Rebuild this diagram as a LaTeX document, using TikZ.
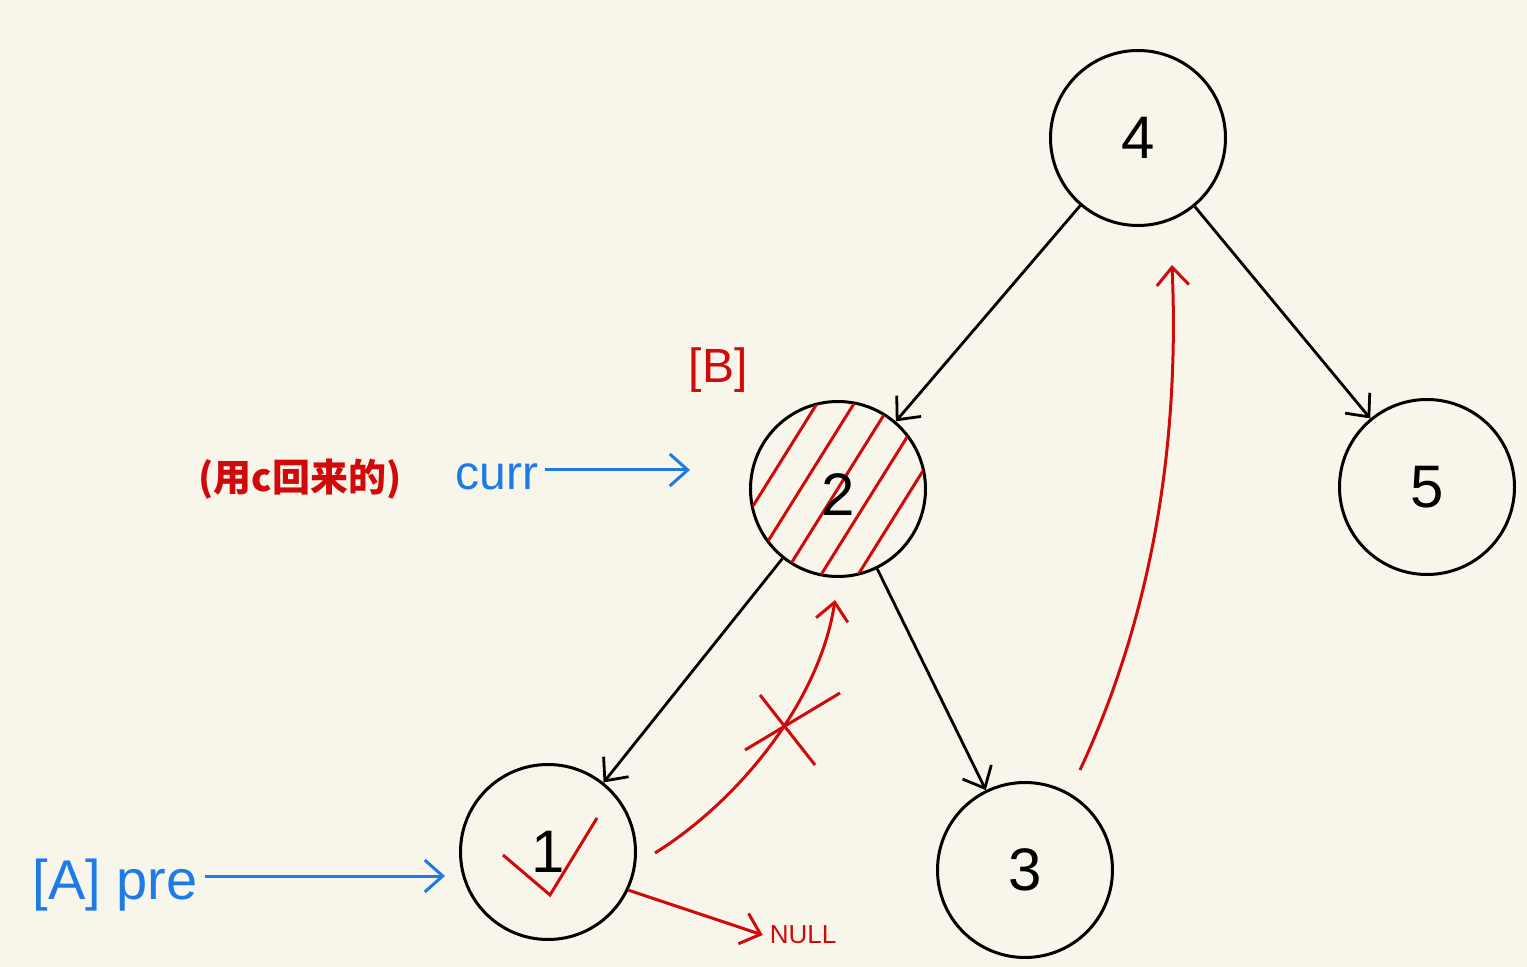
\documentclass[tikz,border=0pt]{standalone}
\usepackage{fontspec}
\setmainfont{Liberation Sans}
\newfontfamily\cjk{Noto Sans CJK SC}
\usetikzlibrary{arrows.meta}
\definecolor{bg}{HTML}{F8F6EA}
\definecolor{rd}{HTML}{D00A0A}
\definecolor{bl}{HTML}{1E7BE6}
\begin{document}
\begin{tikzpicture}[x=0.5pt,y=-0.5pt,
  nd/.style={circle,draw,line width=1.5pt,minimum size=87.5pt,inner sep=0pt,font=\fontsize{30}{30}\selectfont},
  tip/.style={-{Straight Barb[length=9pt,width=16pt]}},
  edge/.style={line width=1.4pt,tip},
  redl/.style={rd,line width=1.5pt},
  bluel/.style={bl,line width=1.5pt,tip}]
\fill[bg] (0,0) rectangle (1527,967);
\useasboundingbox (0,0) rectangle (1527,967);
\node[nd] (n4) at (1138,138) {4};
\node[nd] (n5) at (1427,487) {5};
\node[nd] (n2) at (838,489) {};
\node[nd] (n1) at (548,852) {1};
\node[nd] (n3) at (1025,870) {3};
\begin{scope}
\clip (838,489) circle (87);
\foreach \i in {-5,...,5} \draw[redl] (700+\i*37,650) -- (900+\i*37,330);
\end{scope}
\node[font=\fontsize{30}{30}\selectfont] at (838,495) {2};
\draw[edge] (n4) -- (n2);
\draw[edge] (n4) -- (n5);
\draw[edge] (n2) -- (n1);
\draw[edge] (n2) -- (n3);
% red
\coordinate (a1) at (655,853); \coordinate (a2) at (835,600);
\draw[redl,tip] (a1) .. controls (740,800) and (820,700) .. (a2);
\coordinate (c1) at (745,750); \coordinate (c2) at (840,693);
\coordinate (c3) at (760,695); \coordinate (c4) at (815,765);
\draw[redl] (c1) -- (c2); \draw[redl] (c3) -- (c4);
\coordinate (b1) at (1080,770); \coordinate (b2) at (1172,265);
\draw[redl,tip] (b1) .. controls (1150,620) and (1180,450) .. (b2);
\node[text=rd,font=\fontsize{13}{13}\selectfont] (nul) at (803,935) {NULL};
\draw[redl,tip] (628,890) -- (nul.west);
\coordinate (k1) at (503,855); \coordinate (k2) at (550,895); \coordinate (k3) at (597,818);
\draw[redl] (k1) -- (k2) -- (k3);
\node[text=rd,font=\fontsize{24}{24}\selectfont] (lb) at (718,370) {[B]};
% blue
\node[text=bl,font=\fontsize{24}{24}\selectfont] (cu) at (497,477) {curr};
\node[text=rd,font=\cjk\bfseries\fontsize{19}{19}\selectfont] (cj) at (300,479) {(用c回来的)};
\coordinate (ce) at (690,470);
\draw[bluel] (cu.east |- ce) -- (ce);
\node[text=bl,font=\fontsize{28}{28}\selectfont] (pre) at (115,885) {[A] pre};
\coordinate (pe) at (445,876);
\draw[bluel] (pre.east |- pe) -- (pe);
\end{tikzpicture}
\end{document}
